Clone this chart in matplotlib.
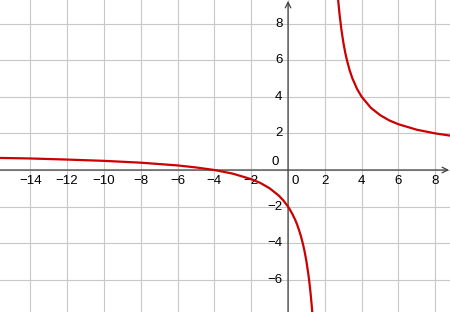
import matplotlib.pyplot as plt

# curve samples, y = f(x)
left_x = [-15.7, -14, -12, -10, -8, -6, -5, -4, -3, -2, -1.5, -1, -0.5, -0.25, 0,
          0.1, 0.25, 0.4, 0.5, 0.6, 0.7, 0.8, 0.9, 1.0, 1.1, 1.15, 1.2, 1.25, 1.3, 1.35]
left_y = [0.66, 0.63, 0.57, 0.5, 0.4, 0.25, 0.14, 0.0, -0.2, -0.5, -0.71, -1.0, -1.4, -1.67, -2.0,
          -2.16, -2.43, -2.75, -3.0, -3.29, -3.62, -4.0, -4.45, -5.0, -5.67, -6.06, -6.5, -7.0, -7.57, -8.23]
right_x = [2.65, 2.7, 2.75, 2.8, 2.9, 3.0, 3.1, 3.2, 3.35, 3.5, 3.75, 4.0, 4.5, 5.0, 5.5, 6.0, 7.0, 8.0, 8.8]
right_y = [10.23, 9.57, 9.0, 8.5, 7.67, 7.0, 6.45, 6.0, 5.44, 5.0, 4.43, 4.0, 3.4, 3.0, 2.71, 2.5, 2.2, 2.0, 1.88]

x_ticks = [-14, -12, -10, -8, -6, -4, -2, 0, 2, 4, 6, 8]
y_ticks = [-6, -4, -2, 0, 2, 4, 6, 8]

x_min, x_max = -15.65, 8.8
y_min, y_max = -7.76, 9.29

plt.rcParams['font.family'] = ['Liberation Sans', 'DejaVu Sans']

fig = plt.figure(figsize=(4.5, 3.12), dpi=100)
ax = fig.add_axes([0, 0, 1, 1])
ax.set_xlim(x_min, x_max)
ax.set_ylim(y_min, y_max)
ax.axis('off')

# grid
grid_col = '#c8c8c8'
for gx in range(-16, 10, 2):
    ax.axvline(gx, color=grid_col, lw=0.8, zorder=1)
for gy in range(-8, 10, 2):
    ax.axhline(gy, color=grid_col, lw=0.8, zorder=1)

# axes with arrow heads
axis_col = '#404040'
ax.annotate('', xy=(x_max - 0.05, 0), xytext=(x_min, 0),
            arrowprops=dict(arrowstyle='->', color=axis_col, lw=0.9, mutation_scale=10,
                            shrinkA=0, shrinkB=0), zorder=2)
ax.annotate('', xy=(0, y_max - 0.05), xytext=(0, y_min),
            arrowprops=dict(arrowstyle='->', color=axis_col, lw=0.9, mutation_scale=10,
                            shrinkA=0, shrinkB=0), zorder=2)

# tick labels
fs = 9.5
for t in x_ticks:
    if t == 0:
        ax.text(0.18, -0.62, '0', ha='left', va='center', fontsize=fs, zorder=3)
    else:
        ax.text(t, -0.62, str(t).replace('-', '\u2212'), ha='center', va='center',
                fontsize=fs, zorder=3)
for t in y_ticks:
    if t == 0:
        ax.text(-0.5, 0.45, '0', ha='right', va='center', fontsize=fs, zorder=3)
    else:
        ax.text(-0.3, t, str(t).replace('-', '\u2212'), ha='right', va='center',
                fontsize=fs, zorder=3)

# function graph
ax.plot(left_x, left_y, color='#cc0000', lw=1.6, zorder=4, solid_capstyle='round')
ax.plot(right_x, right_y, color='#cc0000', lw=1.6, zorder=4, solid_capstyle='round')

fig.savefig('out.png', dpi=100)
